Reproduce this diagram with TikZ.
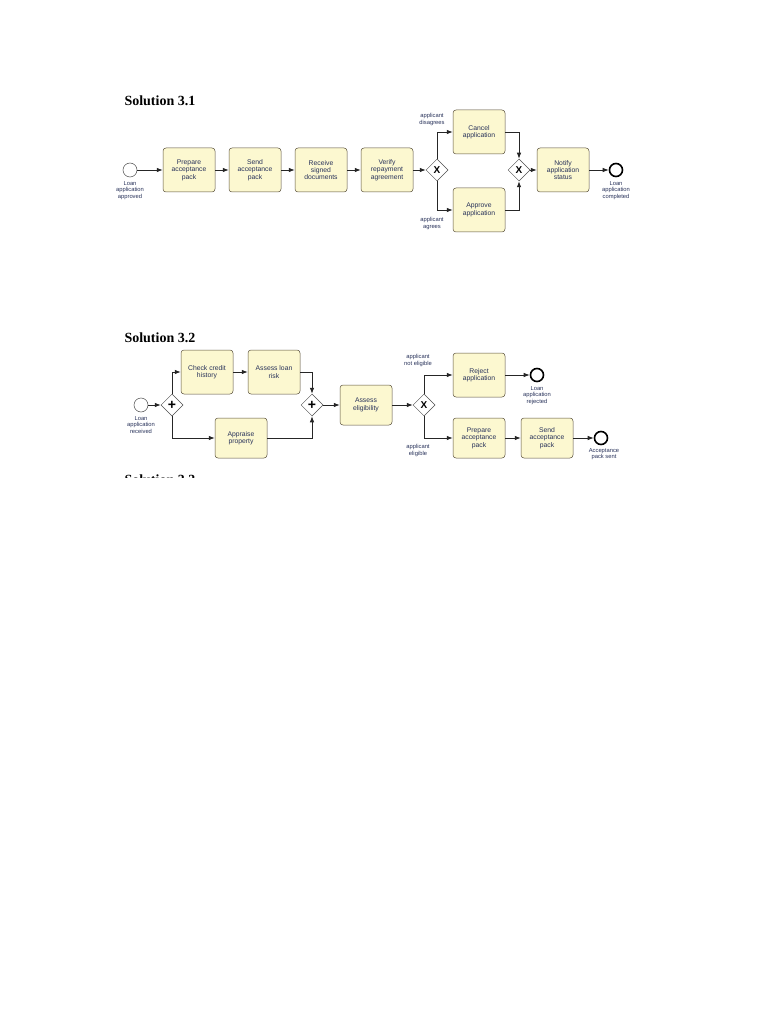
\documentclass[tikz,border=0pt]{standalone}
\usepackage{fontspec}
\setmainfont{Liberation Serif}
\newfontfamily\lab{Liberation Sans}
\usetikzlibrary{shapes.geometric,arrows.meta}
\definecolor{tfill}{RGB}{252,248,208}
\definecolor{tdraw}{RGB}{90,80,60}
\definecolor{ltext}{RGB}{40,50,90}
\tikzset{
 task/.style={draw=tdraw,fill=tfill,rounded corners=3pt,minimum width=52pt,minimum height=44pt,align=center,font=\lab\fontsize{6.8}{7.4}\selectfont,text=ltext,line width=0.5pt},
 startev/.style={circle,draw=black!70,fill=white,minimum size=14pt,inner sep=0pt,line width=0.5pt},
 endev/.style={circle,draw=black,fill=white,minimum size=13pt,inner sep=0pt,line width=1.6pt},
 gw/.style={diamond,draw=black!70,fill=white,minimum size=22pt,inner sep=0pt,line width=0.5pt,font=\lab\bfseries\fontsize{10}{10}\selectfont},
 lbl/.style={font=\lab\fontsize{5.8}{6.3}\selectfont,text=ltext,align=center},
 flow/.style={-{Latex[length=6pt,width=4.5pt]},line width=0.8pt,black!85},
 ttl/.style={font=\bfseries\fontsize{14}{14}\selectfont,anchor=west}
}
\begin{document}
\begin{tikzpicture}[x=1pt,y=-1pt]
\useasboundingbox[fill=white] (0,0) rectangle (768,1024);
% ---------- Solution 3.1
\node[ttl] (t1) at (121,101) {Solution 3.1};
\node[startev] (s1) at (130,170) {};
\node[lbl,anchor=north] (s1l) at (130,178) {Loan\\application\\approved};
\node[task] (a1) at (189,170) {Prepare\\acceptance\\pack};
\node[task] (a2) at (255,170) {Send\\acceptance\\pack};
\node[task] (a3) at (321,170) {Receive\\signed\\documents};
\node[task] (a4) at (387,170) {Verify\\repayment\\agreement};
\node[gw] (g1) at (437,170) {X};
\node[task] (a5) at (479,132) {Cancel\\application};
\node[task] (a6) at (479,210) {Approve\\application};
\node[gw] (g2) at (519,170) {X};
\node[task] (a7) at (563,170) {Notify\\application\\status};
\node[endev] (e1) at (616,170) {};
\node[lbl,anchor=north] (e1l) at (616,178) {Loan\\application\\completed};
\node[lbl,anchor=south] (c1) at (432,129) {applicant\\disagrees};
\node[lbl,anchor=north] (c2) at (432,214) {applicant\\agrees};
\draw[flow] (s1) -- (a1);
\draw[flow] (a1) -- (a2);
\draw[flow] (a2) -- (a3);
\draw[flow] (a3) -- (a4);
\draw[flow] (a4) -- (g1);
\draw[flow] (g1.north) |- (a5.west);
\draw[flow] (g1.south) |- (a6.west);
\draw[flow] (a5.east) -| (g2.north);
\draw[flow] (a6.east) -| (g2.south);
\draw[flow] (g2) -- (a7);
\draw[flow] (a7) -- (e1);
% ---------- Solution 3.2
\node[ttl] (t2) at (121,338) {Solution 3.2};
\node[startev] (s2) at (141,405) {};
\node[lbl,anchor=north] (s2l) at (141,413) {Loan\\application\\received};
\node[gw] (p1) at (172,405) {\fontsize{14}{14}\selectfont +};
\node[task] (b1) at (207,372) {Check credit\\history};
\node[task] (b2) at (274,372) {Assess loan\\risk};
\node[task,minimum height=40pt] (b3) at (241,438) {Appraise\\property};
\node[gw] (p2) at (312,405) {\fontsize{14}{14}\selectfont +};
\node[task,minimum height=40pt] (b4) at (366,405) {Assess\\eligibility};
\node[gw] (x2) at (424,405) {X};
\node[task] (b5) at (479,375) {Reject\\application};
\node[endev] (e2) at (537,375) {};
\node[lbl,anchor=north] (e2l) at (537,383) {Loan\\application\\rejected};
\node[task,minimum height=40pt] (b6) at (479,438) {Prepare\\acceptance\\pack};
\node[task,minimum height=40pt] (b7) at (547,438) {Send\\acceptance\\pack};
\node[endev] (e3) at (601,438) {};
\node[lbl,anchor=north] (e3l) at (604,445) {Acceptance\\pack sent};
\node[lbl,anchor=south] (c3) at (418,370) {applicant\\not eligible};
\node[lbl,anchor=north] (c4) at (418,441) {applicant\\eligible};
\draw[flow] (s2) -- (p1);
\draw[flow] (p1.north) |- (b1.west);
\draw[flow] (p1.south) |- (b3.west);
\draw[flow] (b1) -- (b2);
\draw[flow] (b2.east) -| (p2.north);
\draw[flow] (b3.east) -| (p2.south);
\draw[flow] (p2) -- (b4);
\draw[flow] (b4) -- (x2);
\draw[flow] (x2.north) |- (b5.west);
\draw[flow] (x2.south) |- (b6.west);
\draw[flow] (b5) -- (e2);
\draw[flow] (b6) -- (b7);
\draw[flow] (b7) -- (e3);
% ---------- cut-off title
\begin{scope}
\clip (100,468) rectangle (300,477.5);
\node[ttl] (t3) at (121,480) {Solution 3.3};
\end{scope}
\end{tikzpicture}
\end{document}
